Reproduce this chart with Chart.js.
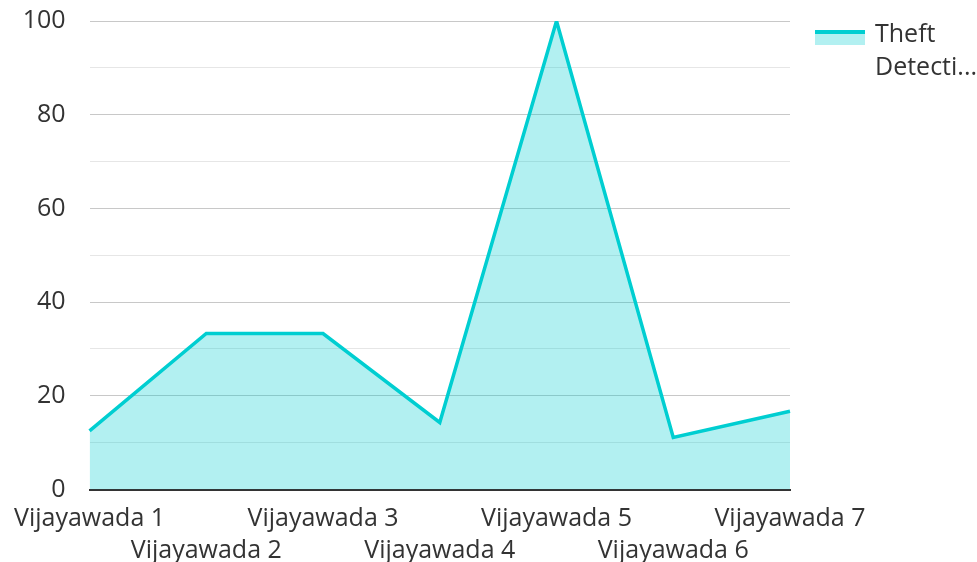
<!DOCTYPE html>
<html>
<head>
<meta charset="utf-8">
<script src="https://cdn.jsdelivr.net/npm/chart.js@4/dist/chart.umd.min.js"></script>
<style>
  html, body { margin: 0; padding: 0; background: #fff; }
  #wrap { position: relative; width: 977px; height: 562px; overflow: hidden; }
  #chart { position: absolute; left: 0; top: -18px; }
  #legend {
    position: absolute; left: 815px; top: 16px;
    font-family: "Open Sans", sans-serif; font-size: 25px; color: #333; line-height: 33px;
  }
  #legend .swatch {
    position: absolute; left: 0; top: 14px; width: 50px; height: 15px;
    background: rgba(0, 206, 209, 0.3); border-top: 4px solid #00ced1; box-sizing: border-box;
  }
  #legend .text { margin-left: 60px; }
</style>
</head>
<body>
<div id="wrap">
  <canvas id="chart" width="977" height="580"></canvas>
  <div id="legend"><div class="swatch"></div><div class="text">Theft<br>Detecti...</div></div>
</div>
<script>
const categories = ['Vijayawada 1', 'Vijayawada 2', 'Vijayawada 3', 'Vijayawada 4', 'Vijayawada 5', 'Vijayawada 6', 'Vijayawada 7'];
const theftValues = [12.5, 33.3, 33.3, 14.3, 100, 11.1, 16.7];
const yTickLabels = [0, 20, 40, 60, 80, 100];

const ctx = document.getElementById('chart').getContext('2d');
new Chart(ctx, {
    type: 'line',
    data: {
        labels: categories,
        datasets: [{
            label: 'Theft Detection',
            data: theftValues,
            borderColor: '#00ced1',
            backgroundColor: 'rgba(0, 206, 209, 0.3)',
            borderWidth: 3.5,
            fill: 'origin',
            pointRadius: 0,
            tension: 0
        }]
    },
    options: {
        responsive: false,
        animation: false,
        layout: { padding: { left: -11, right: 187, top: -18, bottom: -18 } },
        plugins: { legend: { display: false }, tooltip: { enabled: false } },
        scales: {
            x: {
                grid: { display: false, drawTicks: false },
                border: { color: '#333', width: 2 },
                ticks: {
                    autoSkip: false,
                    maxRotation: 0,
                    padding: 14,
                    color: '#333',
                    font: { family: 'Open Sans', size: 25, lineHeight: 1.25 },
                    callback: function(v, i) {
                        return i % 2 ? ['', categories[i]] : categories[i];
                    }
                }
            },
            y: {
                min: 0,
                max: 100,
                border: { display: false },
                grid: {
                    drawTicks: false,
                    lineWidth: 1,
                    color: function(c) {
                        return yTickLabels.includes(c.tick.value) ? '#c8c8c8' : '#e6e6e6';
                    }
                },
                ticks: {
                    stepSize: 10,
                    padding: 24,
                    color: '#333',
                    font: { family: 'Open Sans', size: 25 },
                    callback: function(v) {
                        return yTickLabels.includes(v) ? v : '';
                    }
                }
            }
        }
    }
});
</script>
</body>
</html>
